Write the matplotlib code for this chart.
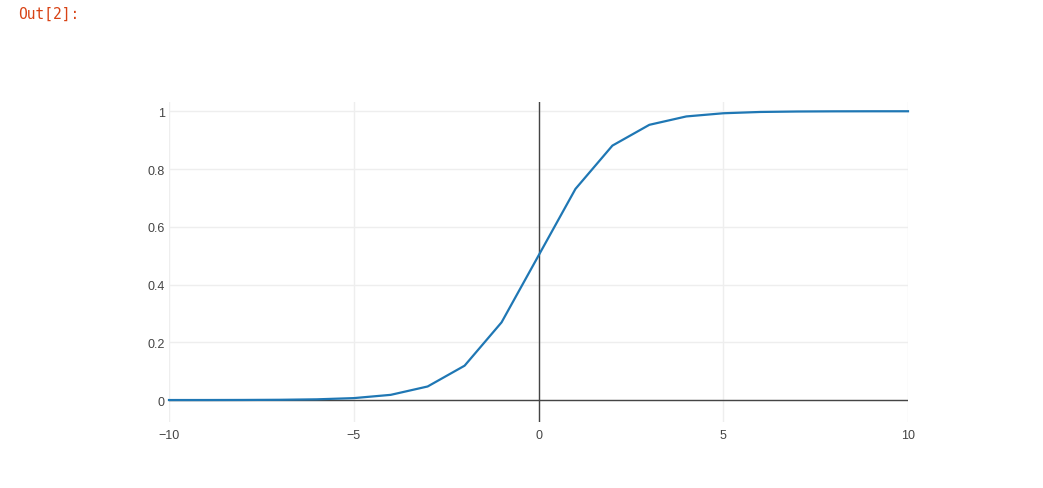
import matplotlib.pyplot as plt

x_vals = [-10, -9, -8, -7, -6, -5, -4, -3, -2, -1, 0, 1, 2, 3, 4, 5, 6, 7, 8, 9, 10]
y_vals = [0.00005, 0.00012, 0.00034, 0.00091, 0.0025, 0.0067, 0.018, 0.047, 0.119, 0.269, 0.5,
          0.731, 0.881, 0.953, 0.982, 0.993, 0.9975, 0.9991, 0.9997, 0.9999, 0.99995]
x_ticks = [-10, -5, 0, 5, 10]
y_ticks = [0, 0.2, 0.4, 0.6, 0.8, 1]
y_labels = ["0", "0.2", "0.4", "0.6", "0.8", "1"]

plt.rcParams['font.family'] = ['Liberation Sans', 'DejaVu Sans']

fig = plt.figure(figsize=(10.43, 4.89), dpi=100)
fig.text(18 / 1043, 1 - 14 / 489, "Out[2]:", color="#D84315", fontsize=10.5,
         family="DejaVu Sans Mono", va="center", ha="left")

ax = fig.add_axes([169 / 1043, 66 / 489, 739 / 1043, 320 / 489])
ax.plot(x_vals, y_vals, color="#1f77b4", lw=1.6, zorder=3, clip_on=False)

ax.set_xlim(-10, 10)
ax.set_ylim(-0.076, 1.032)
ax.set_xticks(x_ticks)
ax.set_yticks(y_ticks)
ax.set_yticklabels(y_labels)
ax.grid(True, color="#eeeeee", lw=1)
ax.axhline(0, color="#444444", lw=1, zorder=2)
ax.axvline(0, color="#444444", lw=1, zorder=2)

for s in ax.spines.values():
    s.set_visible(False)
ax.tick_params(length=0, labelsize=9, colors="#444444")
ax.tick_params(axis="y", pad=3)
ax.tick_params(axis="x", pad=5)

fig.savefig("out.png", dpi=100)
